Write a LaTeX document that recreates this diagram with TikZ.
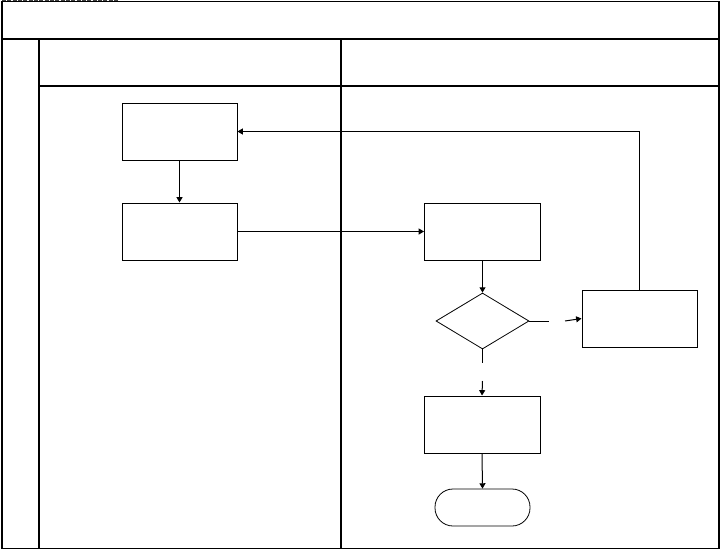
\documentclass[tikz,border=0pt]{standalone}
\usetikzlibrary{shapes.geometric,arrows.meta}
\begin{document}
\begin{tikzpicture}[x=0.75pt,y=-0.75pt,
  frame/.style={line width=0.9pt},
  stepbox/.style={draw,line width=0.75pt,minimum width=115*0.75pt,minimum height=57*0.75pt,inner sep=0pt},
  decision/.style={draw,diamond,line width=0.6pt,minimum width=93*0.75pt,minimum height=56*0.75pt,inner sep=0pt},
  terminal/.style={draw,line width=0.6pt,rounded corners=13.5pt,minimum width=95*0.75pt,minimum height=37*0.75pt,inner sep=0pt},
  flow/.style={line width=0.75pt,-{Triangle[length=4pt,width=4.5pt]}},
  plain/.style={line width=0.75pt}]
\useasboundingbox (0,0) rectangle (721,550);
% faint strip at top
\draw[line width=0.8pt,black!75,dash pattern=on 3pt off 1pt] (2,0.4) -- (118,0.4);
% swimlane frame
\draw[frame] (2,1.5) rectangle (719,548.5);
\draw[frame] (2,39) -- (719,39);
\draw[frame] (39,39) -- (39,548.5);
\draw[frame] (39,86) -- (719,86);
\draw[frame] (341,39) -- (341,548.5);
% nodes
\node[stepbox] (a) at (179.5,131.5) {};
\node[stepbox] (b) at (179.5,231.5) {};
\node[stepbox,minimum width=116*0.75pt] (c) at (482.5,231.5) {};
\node[decision] (d) at (482.5,321) {};
\node[stepbox] (r) at (639.5,318.5) {};
\node[stepbox,minimum width=116*0.75pt] (e) at (482,424.5) {};
\node[terminal] (t) at (482.5,507.5) {};
\coordinate (dr1) at (549,321);
\coordinate (dr2) at (565,321);
\coordinate (db1) at (482.5,363);
\coordinate (db2) at (482.5,381);
% connectors
\draw[flow] (a.south) -- (b.north);
\draw[flow] (b.east) -- (c.west);
\draw[flow] (c.south) -- (d.north);
\draw[plain] (d.east) -- (dr1);
\draw[flow] (dr2) -- (r.west);
\draw[plain] (d.south) -- (db1);
\draw[flow] (db2) -- (e.north);
\draw[flow] (e.south) -- (t.north);
\draw[flow] (r.north) |- (a.east);
\end{tikzpicture}
\end{document}
